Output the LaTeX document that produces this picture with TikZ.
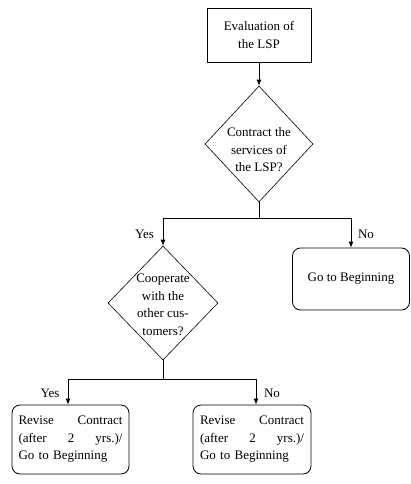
\documentclass[tikz,border=0pt]{standalone}
\usepackage{fontspec}
\setmainfont{Liberation Serif}
\usetikzlibrary{shapes.geometric,arrows.meta}
\begin{document}
\begin{tikzpicture}[x=1pt,y=-1pt,
  every node/.style={font=\fontsize{13}{17.5}\selectfont},
  box/.style={draw,line width=0.8pt,minimum width=104pt,minimum height=54pt,inner sep=0pt,align=center},
  rbox/.style={draw,line width=0.8pt,rounded corners=8pt,inner sep=0pt},
  dia/.style={draw,line width=0.6pt,diamond,inner sep=0pt},
  txt/.style={inner sep=0pt,align=center},
  arr/.style={-{Latex[length=6pt,width=5pt]},line width=0.8pt},
  conn/.style={line width=0.8pt},
  lbl/.style={inner sep=0pt}
]
\useasboundingbox (0,0) rectangle (411,484);
\fill[white] (0,0) rectangle (411,484);

\node[box] (eval) at (259,35) {Evaluation of\\the LSP};
\node[dia,minimum width=108pt,minimum height=116pt] (d1) at (259,144) {};
\node[txt] (t1) at (259,150) {Contract the\\services of\\the LSP?};
\coordinate (f1) at (259,218);
\coordinate (f1l) at (163,218);
\coordinate (f1r) at (351,218);

\node[dia,minimum width=110pt,minimum height=114pt] (d2) at (163,303) {};
\node[txt] (t2) at (163,305) {Cooperate\\with the\\other cus-\\tomers?};
\node[rbox,minimum width=117pt,minimum height=62pt] (gb) at (351,279) {Go to Beginning};

\coordinate (f2) at (163,379);
\coordinate (f2l) at (68,379);
\coordinate (f2r) at (256,379);

\node[rbox,minimum width=117pt,minimum height=69pt,text width=104pt,align=left] (rl) at (70.5,439.5)
  {\makebox[104pt][s]{Revise\hfill Contract}\\\makebox[104pt][s]{(after\hfill 2\hfill yrs.)/}\\Go to Beginning};
\node[rbox,minimum width=118pt,minimum height=69pt,text width=104pt,align=left] (rr) at (252,439.5)
  {\makebox[104pt][s]{Revise\hfill Contract}\\\makebox[104pt][s]{(after\hfill 2\hfill yrs.)/}\\Go to Beginning};

\node[lbl] (y1) at (144.5,234) {Yes};
\node[lbl] (n1) at (366,234) {No};
\node[lbl] (y2) at (50,393) {Yes};
\node[lbl] (n2) at (272,393) {No};

\draw[arr] (eval) -- (d1);
\draw[conn] (d1.south) -- (f1);
\draw[conn] (f1l) -- (f1r);
\draw[arr] (f1l) -- (d2.north);
\draw[arr] (f1r) -- (gb.north);
\draw[conn] (d2.south) -- (f2);
\draw[conn] (f2l) -- (f2r);
\draw[arr] (f2l) -- (f2l |- rl.north);
\draw[arr] (f2r) -- (f2r |- rr.north);
\end{tikzpicture}
\end{document}
